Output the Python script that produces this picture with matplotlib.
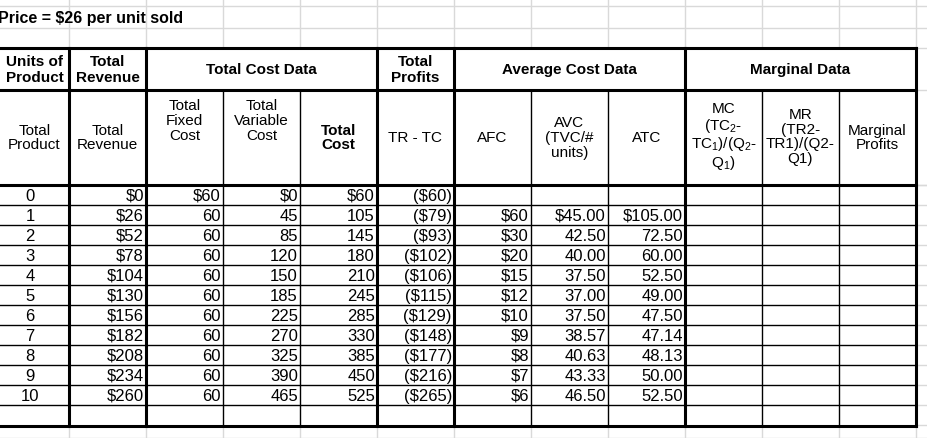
import matplotlib
matplotlib.use("Agg")
import matplotlib.pyplot as plt

plt.rcParams['font.family'] = ['Liberation Sans', 'DejaVu Sans']
plt.rcParams['mathtext.fontset'] = 'custom'
plt.rcParams['mathtext.rm'] = 'Liberation Sans'
plt.rcParams['mathtext.it'] = 'Liberation Sans'

title = "Price = $26 per unit sold"
units = [0, 1, 2, 3, 4, 5, 6, 7, 8, 9, 10]
tr = ["$0", "$26", "$52", "$78", "$104", "$130", "$156", "$182", "$208", "$234", "$260"]
tfc = ["$60", "60", "60", "60", "60", "60", "60", "60", "60", "60", "60"]
tvc = ["$0", "45", "85", "120", "150", "185", "225", "270", "325", "390", "465"]
tc = ["$60", "105", "145", "180", "210", "245", "285", "330", "385", "450", "525"]
profit = ["($60)", "($79)", "($93)", "($102)", "($106)", "($115)", "($129)", "($148)", "($177)", "($216)", "($265)"]
afc = ["", "$60", "$30", "$20", "$15", "$12", "$10", "$9", "$8", "$7", "$6"]
avc = ["", "$45.00", "42.50", "40.00", "37.50", "37.00", "37.50", "38.57", "40.63", "43.33", "46.50"]
atc = ["", "$105.00", "72.50", "60.00", "52.50", "49.00", "47.50", "47.14", "48.13", "50.00", "52.50"]

group_headers = [("Units of\nProduct", 0, 1), ("Total\nRevenue", 1, 2), ("Total Cost Data", 2, 5),
                 ("Total\nProfits", 5, 6), ("Average Cost Data", 6, 9), ("Marginal Data", 9, 12)]
sub_headers = ["Total\nProduct", "Total\nRevenue", "Total\nFixed\nCost", "Total\nVariable\nCost",
               "Total\nCost", "TR - TC", "AFC", "AVC\n(TVC/#\nunits)", "ATC",
               "MC\n(TC$_2$-\nTC$_1$)/(Q$_2$-\nQ$_1$)", "MR\n(TR2-\nTR1)/(Q2-\nQ1)", "Marginal\nProfits"]

W, H = 927, 439
fig = plt.figure(figsize=(W / 100, H / 100), dpi=100)
ax = fig.add_axes([0, 0, 1, 1])
ax.set_xlim(0, W)
ax.set_ylim(H, 0)
ax.axis('off')

xs = [-8 + 77 * i for i in range(13)]
ys_rows = [186 + 20 * i for i in range(13)]
grid = '#d9d9d9'
for x in xs[1:] + [993]:
    ax.plot([x, x], [0, H], color=grid, lw=1, zorder=1)
for y in [7, 29, 49, 91, 186] + ys_rows + [439]:
    ax.plot([0, W], [y, y], color=grid, lw=1, zorder=1)

ax.add_patch(plt.Rectangle((0, 49), xs[12], 427 - 49, color='white', zorder=2))

ax.text(-2, 18, title, fontsize=11.5, fontweight='bold', va='center', ha='left', zorder=5)

thick = 2.2
thin = 1.0
for i in range(1, 13):
    x = xs[i]
    if i in (3, 4, 7, 8, 10, 11):
        ax.plot([x, x], [91, 427], color='black', lw=thin, zorder=3)
    else:
        ax.plot([x, x], [49, 427], color='black', lw=thick, zorder=4)
for y in [49, 91, 186, 427]:
    ax.plot([0, xs[12]], [y, y], color='black', lw=thick, zorder=4)
for y in ys_rows[1:12]:
    ax.plot([0, xs[12]], [y, y], color='black', lw=thin, zorder=3)

for txt, a, b in group_headers:
    cx = (max(xs[a], 0) + xs[b]) / 2
    ax.text(cx, 70, txt, fontsize=11, fontweight='bold', ha='center', va='center',
            linespacing=1.1, zorder=5)
for i, txt in enumerate(sub_headers):
    cx = (max(xs[i], 0) + xs[i + 1]) / 2
    fw = 'bold' if i == 4 else 'normal'
    cy = 138 if i not in (2, 3) else 121
    if i in (9, 10):
        cy = 137
    ax.text(cx, cy, txt, fontsize=11, fontweight=fw, ha='center', va='center',
            linespacing=1.05, zorder=5)

cols = [tr, tfc, tvc, tc, profit, afc, avc, atc]
for r in range(len(units)):
    cy = ys_rows[r] + 10.5
    ax.text(30, cy, str(units[r]), fontsize=12, ha='center', va='center', zorder=5)
    for j, col in enumerate(cols):
        ax.text(xs[j + 2] - 2, cy, col[r], fontsize=12, ha='right', va='center', zorder=5)

fig.savefig('out.png', dpi=100)
